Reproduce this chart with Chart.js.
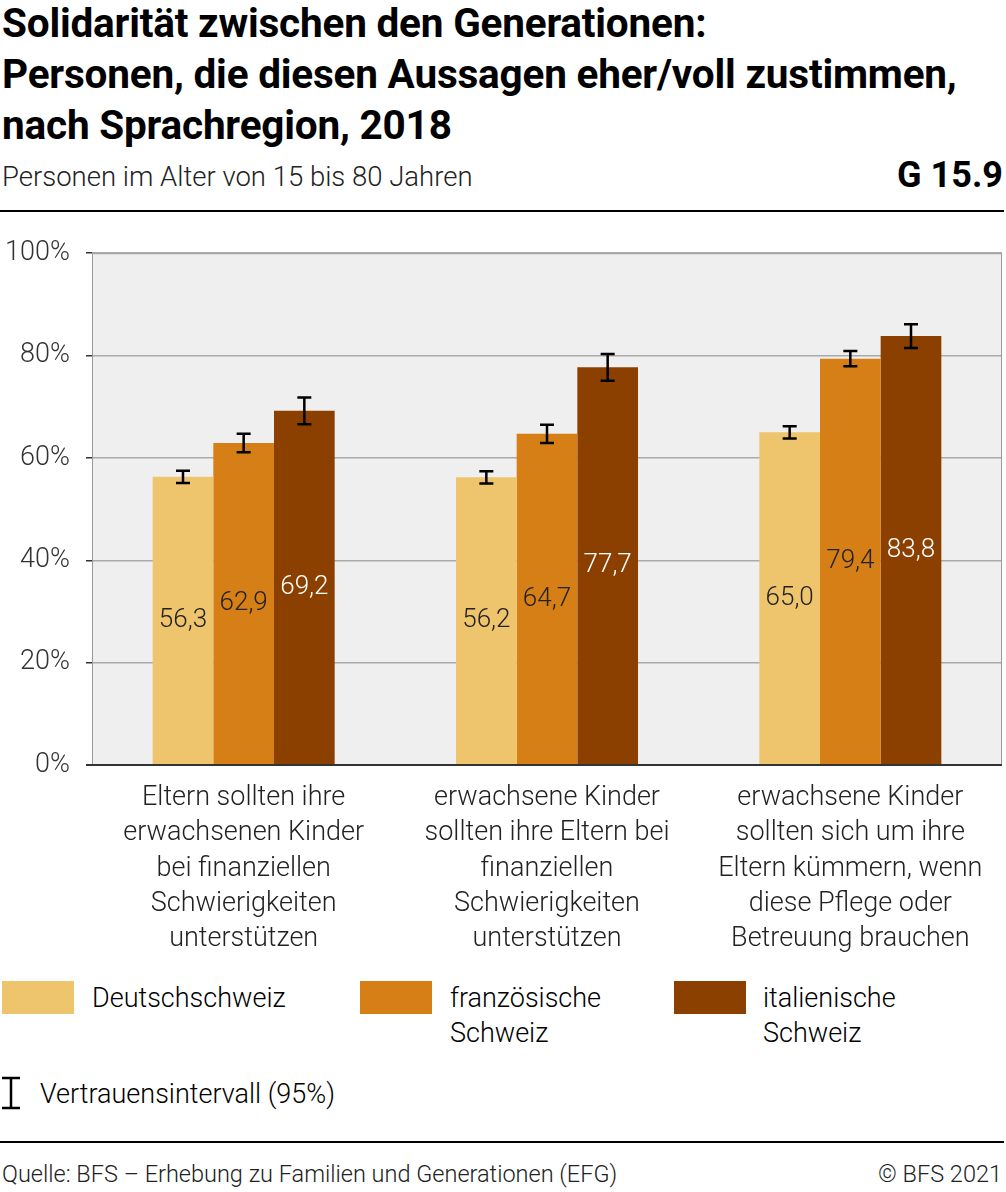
<!DOCTYPE html>
<html><head><meta charset="utf-8">
<script src="https://cdn.jsdelivr.net/npm/chart.js@4"></script>
<style>
body{margin:0;width:1006px;height:1192px;position:relative;font-family:Roboto,sans-serif;font-weight:300;color:#000;background:#fff;overflow:hidden}
.t{position:absolute;left:2px;top:-2px;font-size:40.5px;font-weight:bold;line-height:51px;letter-spacing:-0.2px}
.s{position:absolute;left:2px;top:160px;font-size:27.5px;color:#222}
.g{position:absolute;right:3px;top:154px;font-size:36px;font-weight:bold}
.hr{position:absolute;left:0;width:1004px;height:2px;background:#000}
#c{position:absolute;left:0;top:221px}
.lg{position:absolute;font-size:27px;line-height:35px}
.sw{position:absolute;width:72px;height:33px}
.f{position:absolute;top:1160px;font-size:23.5px;color:#222}
</style></head><body>
<div class="t">Solidarität zwischen den Generationen:<br>Personen, die diesen Aussagen eher/voll zustimmen,<br>nach Sprachregion, 2018</div>
<div class="s">Personen im Alter von 15 bis 80 Jahren</div>
<div class="g">G 15.9</div>
<div class="hr" style="top:210px"></div>
<canvas id="c" width="1006" height="740"></canvas>
<div class="sw" style="left:2px;top:981px;background:#EEC46C"></div><div class="lg" style="left:92px;top:981px">Deutschschweiz</div>
<div class="sw" style="left:360px;top:981px;background:#D67F17"></div><div class="lg" style="left:450px;top:981px">französische<br>Schweiz</div>
<div class="sw" style="left:674px;top:981px;background:#8B4000"></div><div class="lg" style="left:763px;top:981px">italienische<br>Schweiz</div>
<svg style="position:absolute;left:0;top:1076px" width="24" height="36"><path d="M2 2H20M11 2V32M2 32H20" stroke="#000" stroke-width="2.5" fill="none"/></svg>
<div class="lg" style="left:40px;top:1077px">Vertrauensintervall (95%)</div>
<div class="hr" style="top:1141px"></div>
<div class="f" style="left:2px">Quelle: BFS – Erhebung zu Familien und Generationen (EFG)</div>
<div class="f" style="right:4px">© BFS 2021</div>
<script>
const categories=[["Eltern sollten ihre","erwachsenen Kinder","bei finanziellen","Schwierigkeiten","unterstützen"],["erwachsene Kinder","sollten ihre Eltern bei","finanziellen","Schwierigkeiten","unterstützen"],["erwachsene Kinder","sollten sich um ihre","Eltern kümmern, wenn","diese Pflege oder","Betreuung brauchen"]];
const seriesNames=["Deutschschweiz","französische Schweiz","italienische Schweiz"];
const deutsch=[56.3,56.2,65.0];
const franz=[62.9,64.7,79.4];
const ital=[69.2,77.7,83.8];
const deutschLo=[55.1,55.0,63.8], deutschHi=[57.5,57.4,66.2];
const franzLo=[61.1,62.9,77.9], franzHi=[64.7,66.5,80.9];
const italLo=[66.6,75.1,81.5], italHi=[71.8,80.3,86.1];
const yTicks=[0,20,40,60,80,100];
const colors=["#EEC46C","#D67F17","#8B4000"];
const labelColors=["#222","#222","#fff"];
const lows=[deutschLo,franzLo,italLo], highs=[deutschHi,franzHi,italHi];
const fmt=v=>v.toFixed(1).replace('.',',');
const bg={id:'bg',beforeDraw(ch){const a=ch.chartArea,c=ch.ctx;c.save();c.fillStyle='#efefef';c.fillRect(a.left,a.top,a.right-a.left,a.bottom-a.top);c.restore();},
afterDraw(ch){const a=ch.chartArea,c=ch.ctx,y=ch.scales.y;c.save();
c.strokeStyle='#999';c.lineWidth=1;c.strokeRect(a.left+.5,a.top+.5,a.right-a.left-1,a.bottom-a.top);
c.strokeStyle='#333';c.lineWidth=2;c.beginPath();c.moveTo(a.left-6,a.bottom);c.lineTo(a.right,a.bottom);c.stroke();
ch.data.datasets.forEach((ds,i)=>{const m=ch.getDatasetMeta(i);m.data.forEach((b,j)=>{
const x=b.x,y1=y.getPixelForValue(lows[i][j]),y2=y.getPixelForValue(highs[i][j]);
c.strokeStyle='#000';c.lineWidth=2.5;c.beginPath();c.moveTo(x,y1);c.lineTo(x,y2);c.moveTo(x-7,y1);c.lineTo(x+7,y1);c.moveTo(x-7,y2);c.lineTo(x+7,y2);c.stroke();
c.fillStyle=labelColors[i];c.font='300 26px Roboto';c.textAlign='center';c.textBaseline='middle';
c.fillText(fmt(ds.data[j]),x,(b.y+b.base)/2);});});c.restore();}};
new Chart(document.getElementById('c'),{type:'bar',
data:{labels:categories,datasets:[deutsch,franz,ital].map((d,i)=>({label:seriesNames[i],data:d,backgroundColor:colors[i],barPercentage:1,categoryPercentage:0.6}))},
options:{responsive:false,animation:false,layout:{padding:{top:6,right:4,left:0,bottom:0}},
plugins:{legend:{display:false},tooltip:{enabled:false}},
scales:{y:{min:0,max:100,afterBuildTicks(s){s.ticks=yTicks.map(v=>({value:v}));},
afterFit(s){s.width=92;},border:{display:false},
grid:{color:'#aaa',lineWidth:1.5,drawTicks:true,tickLength:6,tickColor:'#333'},
ticks:{color:'#333',font:{size:27,family:'Roboto',weight:'300'},padding:16,callback:v=>v+'%'}},
x:{afterFit(s){s.height=196;},grid:{display:false},border:{display:false},
ticks:{color:'#222',font:{size:27,family:'Roboto',weight:'300',lineHeight:1.3},padding:8,maxRotation:0,autoSkip:false}}}},
plugins:[bg]});
</script></body></html>
